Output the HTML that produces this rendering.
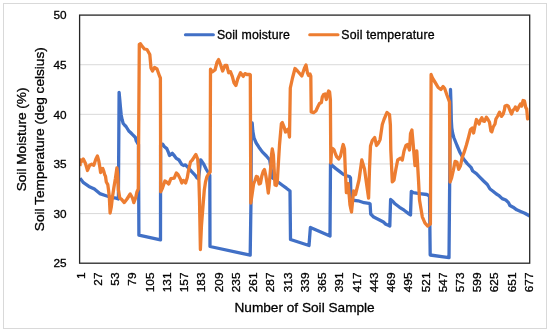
<!DOCTYPE html>
<html><head><meta charset="utf-8"><title>Soil moisture and temperature</title>
<style>
html,body{margin:0;padding:0;background:#fff;}
body{width:550px;height:332px;overflow:hidden;}
svg{display:block;}
text{font-family:'Liberation Sans', Arial, sans-serif;fill:#000;stroke:#000;stroke-width:0.3px;}
.t{font-size:11.8px;}
.lg{font-size:12.3px;}
.at{font-size:13.65px;}
</style></head>
<body>
<svg width="550" height="332" viewBox="0 0 550 332">
<rect x="3.5" y="3.5" width="543" height="325" fill="#fff" stroke="#d9d9d9" stroke-width="1"/>
<line x1="79.6" y1="64.72" x2="529.7" y2="64.72" stroke="#d9d9d9" stroke-width="1"/>
<line x1="79.6" y1="114.34" x2="529.7" y2="114.34" stroke="#d9d9d9" stroke-width="1"/>
<line x1="79.6" y1="163.96" x2="529.7" y2="163.96" stroke="#d9d9d9" stroke-width="1"/>
<line x1="79.6" y1="213.58" x2="529.7" y2="213.58" stroke="#d9d9d9" stroke-width="1"/>
<clipPath id="pc"><rect x="79.6" y="10.1" width="450.10" height="258.10"/></clipPath>
<g clip-path="url(#pc)">
<polyline fill="none" stroke="#4170c6" stroke-width="3.3" stroke-linejoin="round" stroke-linecap="butt" points="80.0,178.2 83.5,182.7 88.9,186.4 94.4,189.0 99.8,193.6 105.3,195.5 110.7,197.3 116.2,198.2 118.4,199.0 119.1,92.3 119.8,100.0 120.4,107.0 121.2,115.0 122.2,120.0 123.2,123.5 124.5,125.0 126.0,126.5 128.8,131.0 130.5,132.5 132.6,134.7 135.4,137.5 136.3,141.0 137.5,143.0 138.5,144.5 138.9,235.2 160.5,239.9 160.6,144.5 162.7,144.1 164.5,146.8 166.8,148.6 168.2,151.8 169.5,155.5 172.3,153.2 174.5,155.9 176.4,158.4 179.0,160.0 181.7,164.3 183.5,165.5 185.4,164.9 188.1,167.6 191.7,171.7 195.3,175.3 197.1,178.0 198.5,179.0 200.7,159.8 203.4,163.6 206.1,169.0 208.8,173.5 209.8,175.5 210.0,246.5 250.2,255.2 251.0,200.0 251.3,132.0 252.2,123.0 252.8,131.0 254.1,138.2 256.2,143.0 258.9,147.2 262.3,151.9 266.4,156.0 269.7,160.0 272.5,178.0 275.5,180.0 279.0,182.7 282.7,185.5 286.4,188.2 290.0,191.0 290.5,239.5 309.0,245.5 310.4,227.4 330.0,236.0 330.5,163.8 333.2,166.4 335.9,168.6 339.5,171.4 343.2,174.3 346.8,175.8 349.5,176.5 350.5,178.0 351.0,200.0 358.1,200.8 364.1,202.7 368.9,203.3 370.1,204.0 370.7,214.0 373.7,217.1 378.6,219.5 383.4,222.0 385.8,224.3 388.8,225.5 389.8,226.0 390.6,199.5 393.0,201.5 395.0,203.8 399.6,207.3 404.1,210.2 408.6,213.6 410.5,215.0 411.3,191.5 413.2,192.7 419.5,193.6 426.8,194.5 428.6,195.5 429.5,196.0 430.2,255.0 449.0,257.7 450.5,89.5 451.0,105.0 451.3,120.0 451.8,128.0 452.6,133.0 453.8,137.5 455.0,140.5 457.0,145.5 460.0,152.5 463.6,159.0 467.3,163.6 471.0,167.3 472.7,171.0 476.4,173.6 480.0,177.3 483.6,181.0 487.3,184.5 490.0,189.0 492.7,191.0 496.4,194.0 498.6,195.3 502.2,198.6 505.8,200.0 508.5,202.6 509.9,205.5 513.1,207.2 516.7,209.8 521.2,211.7 524.8,213.2 528.4,215.3 529.6,216.2"/>
<polyline fill="none" stroke="#ed7d31" stroke-width="3.3" stroke-linejoin="round" stroke-linecap="butt" points="79.9,166.0 80.6,160.0 81.6,161.5 83.3,159.0 85.4,163.2 87.5,170.5 89.6,165.3 91.7,164.2 93.8,165.3 95.9,159.0 97.4,156.0 98.8,161.0 99.7,166.3 100.6,172.5 101.5,169.0 102.8,168.5 103.7,171.0 104.6,174.4 105.5,176.2 106.3,182.0 107.8,184.6 108.6,190.6 109.3,196.7 110.1,213.0 111.3,207.0 112.3,198.0 113.9,187.6 115.4,178.6 116.9,168.0 117.6,174.0 118.4,190.0 119.8,198.0 121.6,199.4 124.3,202.6 127.0,199.0 130.2,194.0 132.5,198.0 133.8,202.6 135.6,198.0 137.0,191.7 138.3,189.0 139.3,44.5 140.5,43.8 141.6,45.5 144.4,49.0 147.0,49.5 149.8,54.5 151.0,68.0 152.5,71.0 154.5,67.5 157.0,69.0 159.5,76.0 160.4,78.0 160.7,191.8 162.5,188.0 164.9,181.0 166.5,182.0 168.7,184.0 170.9,178.7 174.2,178.2 176.4,173.0 178.0,174.4 180.2,178.7 181.8,183.0 183.4,180.4 185.6,183.0 187.3,177.6 188.4,171.0 190.5,161.8 192.3,160.0 194.0,157.3 195.9,154.5 197.7,159.0 198.6,170.0 199.5,200.0 200.4,249.5 201.5,225.0 203.0,206.0 204.3,190.0 205.5,182.0 207.0,176.5 208.5,174.0 210.2,172.0 210.5,69.1 212.3,71.8 215.0,70.0 217.2,61.8 218.6,59.6 220.5,64.5 222.6,71.0 225.0,65.5 226.8,65.5 228.6,72.7 230.5,71.8 232.3,76.4 234.0,82.7 235.9,85.5 237.7,79.0 240.5,72.7 243.2,76.4 245.0,73.6 246.8,74.5 249.8,74.5 250.3,74.8 250.8,203.0 252.0,195.0 253.6,184.0 255.0,180.5 256.4,176.4 257.7,177.0 259.1,184.0 260.5,183.2 261.8,176.0 263.2,171.4 264.5,169.5 265.9,176.0 267.3,185.0 268.3,193.0 269.1,186.0 270.5,169.5 271.5,155.0 272.3,149.0 273.4,155.0 274.3,172.0 275.0,185.0 276.4,185.5 277.3,181.4 279.5,145.0 281.4,123.5 282.3,122.5 284.1,127.0 285.5,132.0 286.8,130.0 288.2,129.0 289.5,137.0 290.3,88.0 292.5,78.0 295.0,68.5 297.5,71.0 301.8,76.0 304.5,68.0 306.0,65.0 307.5,73.0 308.5,75.5 310.0,74.0 310.8,76.0 311.2,112.0 313.6,112.7 315.9,111.0 317.7,107.0 319.5,103.5 321.4,102.5 322.3,97.0 323.6,94.5 325.0,94.0 326.4,99.5 327.3,95.0 328.6,91.0 329.6,92.0 330.4,100.0 330.8,163.0 331.6,150.0 332.6,148.5 334.1,150.0 335.5,154.0 336.8,157.0 338.6,159.0 340.5,156.0 342.3,148.0 343.2,144.5 344.5,149.0 345.2,168.0 346.4,192.7 348.2,183.6 350.0,205.0 351.5,212.0 353.6,191.0 355.5,194.5 359.0,180.0 361.8,160.0 364.5,169.0 366.8,185.5 368.6,198.2 369.5,169.0 370.5,146.0 372.3,140.5 374.7,137.5 376.5,145.5 378.3,143.3 380.1,139.6 382.3,124.5 384.0,119.5 385.9,115.0 387.0,112.5 388.2,113.5 389.5,114.5 390.4,125.0 390.8,150.0 392.3,181.8 394.0,180.0 395.9,169.0 397.7,160.0 400.5,158.2 402.3,160.0 404.0,151.0 405.9,145.5 407.7,144.5 409.5,150.0 410.5,133.6 411.9,130.0 413.2,144.5 415.0,165.5 416.8,151.0 418.6,181.8 419.5,200.0 420.5,206.0 422.3,216.8 425.0,223.2 427.7,226.0 430.4,224.0 431.1,74.5 432.7,78.5 434.9,82.0 438.2,87.5 440.9,89.5 443.1,86.5 444.7,88.5 446.9,95.0 449.5,102.0 450.1,182.0 451.6,178.0 453.3,170.5 455.1,161.4 456.9,162.0 458.7,169.3 460.5,165.7 462.3,157.2 464.1,152.4 466.4,145.0 468.6,137.0 470.5,129.5 472.3,128.0 473.6,133.0 475.0,126.0 476.4,119.5 477.7,121.4 479.1,124.0 480.5,120.0 481.8,117.7 483.2,121.0 484.5,121.4 486.4,117.3 487.7,119.0 489.5,122.3 490.9,131.0 491.8,131.8 493.2,127.0 495.0,124.0 495.9,119.0 497.7,116.0 499.5,112.3 501.4,116.4 503.2,114.0 504.5,109.5 505.0,106.0 507.0,105.3 508.4,106.4 510.2,111.0 511.6,114.0 513.1,110.0 514.5,109.0 515.4,107.0 517.2,110.4 519.0,106.5 520.4,104.0 521.7,106.0 523.1,100.5 524.4,100.8 525.8,107.6 526.7,109.0 527.6,118.8 529.4,117.6"/>
</g>
<rect x="79.6" y="15.1" width="450.10" height="248.10" fill="none" stroke="#262626" stroke-width="1.3"/>
<text x="66.6" y="267.40" text-anchor="end" class="t">25</text>
<text x="66.6" y="217.78" text-anchor="end" class="t">30</text>
<text x="66.6" y="168.16" text-anchor="end" class="t">35</text>
<text x="66.6" y="118.54" text-anchor="end" class="t">40</text>
<text x="66.6" y="68.92" text-anchor="end" class="t">45</text>
<text x="66.6" y="19.30" text-anchor="end" class="t">50</text>
<text x="84.70" y="272.5" text-anchor="end" class="t" transform="rotate(-90 84.70 272.5)">1</text>
<text x="101.94" y="272.5" text-anchor="end" class="t" transform="rotate(-90 101.94 272.5)">27</text>
<text x="119.18" y="272.5" text-anchor="end" class="t" transform="rotate(-90 119.18 272.5)">53</text>
<text x="136.42" y="272.5" text-anchor="end" class="t" transform="rotate(-90 136.42 272.5)">79</text>
<text x="153.66" y="272.5" text-anchor="end" class="t" transform="rotate(-90 153.66 272.5)">105</text>
<text x="170.90" y="272.5" text-anchor="end" class="t" transform="rotate(-90 170.90 272.5)">131</text>
<text x="188.14" y="272.5" text-anchor="end" class="t" transform="rotate(-90 188.14 272.5)">157</text>
<text x="205.38" y="272.5" text-anchor="end" class="t" transform="rotate(-90 205.38 272.5)">183</text>
<text x="222.62" y="272.5" text-anchor="end" class="t" transform="rotate(-90 222.62 272.5)">209</text>
<text x="239.86" y="272.5" text-anchor="end" class="t" transform="rotate(-90 239.86 272.5)">235</text>
<text x="257.10" y="272.5" text-anchor="end" class="t" transform="rotate(-90 257.10 272.5)">261</text>
<text x="274.34" y="272.5" text-anchor="end" class="t" transform="rotate(-90 274.34 272.5)">287</text>
<text x="291.58" y="272.5" text-anchor="end" class="t" transform="rotate(-90 291.58 272.5)">313</text>
<text x="308.82" y="272.5" text-anchor="end" class="t" transform="rotate(-90 308.82 272.5)">339</text>
<text x="326.06" y="272.5" text-anchor="end" class="t" transform="rotate(-90 326.06 272.5)">365</text>
<text x="343.30" y="272.5" text-anchor="end" class="t" transform="rotate(-90 343.30 272.5)">391</text>
<text x="360.54" y="272.5" text-anchor="end" class="t" transform="rotate(-90 360.54 272.5)">417</text>
<text x="377.78" y="272.5" text-anchor="end" class="t" transform="rotate(-90 377.78 272.5)">443</text>
<text x="395.02" y="272.5" text-anchor="end" class="t" transform="rotate(-90 395.02 272.5)">469</text>
<text x="412.26" y="272.5" text-anchor="end" class="t" transform="rotate(-90 412.26 272.5)">495</text>
<text x="429.50" y="272.5" text-anchor="end" class="t" transform="rotate(-90 429.50 272.5)">521</text>
<text x="446.74" y="272.5" text-anchor="end" class="t" transform="rotate(-90 446.74 272.5)">547</text>
<text x="463.98" y="272.5" text-anchor="end" class="t" transform="rotate(-90 463.98 272.5)">573</text>
<text x="481.22" y="272.5" text-anchor="end" class="t" transform="rotate(-90 481.22 272.5)">599</text>
<text x="498.46" y="272.5" text-anchor="end" class="t" transform="rotate(-90 498.46 272.5)">625</text>
<text x="515.70" y="272.5" text-anchor="end" class="t" transform="rotate(-90 515.70 272.5)">651</text>
<text x="532.94" y="272.5" text-anchor="end" class="t" transform="rotate(-90 532.94 272.5)">677</text>
<text x="304.6" y="311.7" text-anchor="middle" class="at">Number of Soil Sample</text>
<text x="26.2" y="139.4" text-anchor="middle" class="at" transform="rotate(-90 26.2 139.4)">Soil Moisture (%)</text>
<text x="43.9" y="139.2" text-anchor="middle" class="at" transform="rotate(-90 43.9 139.2)">Soil Temperature (deg celsius)</text>
<line x1="185.4" y1="34.8" x2="213.4" y2="34.8" stroke="#4170c6" stroke-width="3" stroke-linecap="round"/>
<text x="216.9" y="38.6" class="lg" style="letter-spacing:0.15px">Soil moisture</text>
<line x1="309.7" y1="34.8" x2="338.0" y2="34.8" stroke="#ed7d31" stroke-width="3" stroke-linecap="round"/>
<text x="341.3" y="38.6" class="lg" style="letter-spacing:0.2px">Soil temperature</text>
</svg>
</body></html>
